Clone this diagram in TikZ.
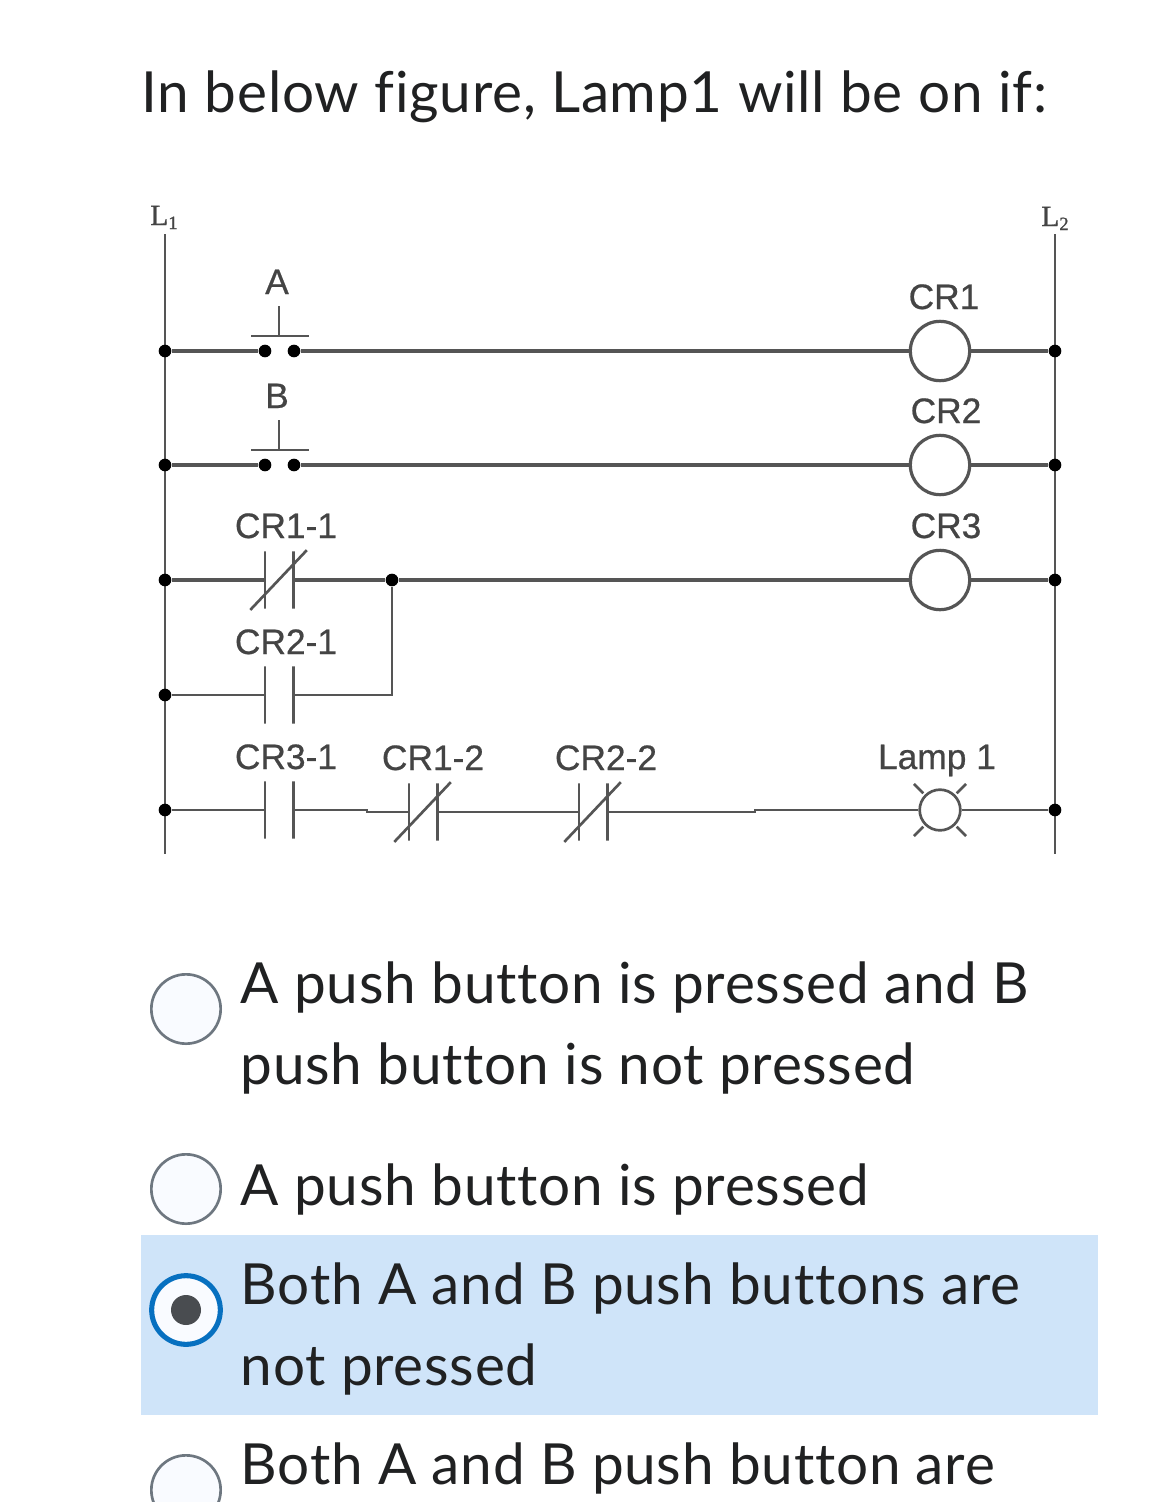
\documentclass[tikz,border=0pt]{standalone}
\usepackage{fontspec}
\setmainfont{Lato}[LetterSpace=1.35,RawFeature={-liga}]
\newfontfamily\labelfont{Liberation Sans}[RawFeature={embolden=0.6}]
\newfontfamily\railfont{Liberation Serif}[RawFeature={embolden=1.2}]
\usepackage{xcolor}
\usetikzlibrary{positioning}
\definecolor{wiregray}{HTML}{555555}
\definecolor{labelgray}{HTML}{444444}
\definecolor{textblack}{HTML}{202122}
\definecolor{radioline}{HTML}{6E7780}
\definecolor{radiofill}{HTML}{F9FBFF}
\definecolor{radioblue}{HTML}{0770C0}
\definecolor{radiodot}{HTML}{494C50}
\definecolor{rowblue}{HTML}{CFE4F9}
\tikzset{
	rail/.style={draw=wiregray, line width=2.2pt},
	wire/.style={draw=wiregray, line width=2.8pt},
	thinwire/.style={draw=wiregray, line width=2pt},
	joint/.style={circle, fill=black, inner sep=0, minimum size=9.5pt},
	plate/.style={draw=wiregray, line width=1.8pt, rectangle, inner sep=0, minimum width=0, minimum height=43pt},
	coil/.style={circle, draw=wiregray, line width=2.4pt, fill=white, inner sep=0, minimum size=44.5pt},
	lamp/.style={circle, draw=wiregray, line width=2pt, fill=white, inner sep=0, minimum size=30.5pt},
	partlabel/.style={font=\labelfont\fontsize{26.5}{26.5}\selectfont, text=labelgray, inner sep=0, anchor=base},
	raillabel/.style={font=\railfont\fontsize{22}{22}\selectfont, text=labelgray, inner sep=0, anchor=base},
	answer/.style={font=\fontsize{42.5}{42.5}\selectfont, text=textblack, inner sep=0, anchor=base west},
	radio/.style={circle, draw=radioline, line width=2pt, fill=radiofill, inner sep=0, minimum size=52pt}
}
\begin{document}
\begin{tikzpicture}[x=.75pt, y=-.75pt]
	\clip (0,0) rectangle (1170,1502);
	\fill[white] (0,0) rectangle (1170,1502);
	\node[answer] (Question) at (141.5,112.5){In below figure, Lamp1 will be on if:};

	% rails
	\node[raillabel] (Lone) at (164,225){L\raisebox{-3pt}{\fontsize{14}{14}\selectfont 1}};
	\node[raillabel] (Ltwo) at (1055,226){L\raisebox{-3pt}{\fontsize{14}{14}\selectfont 2}};
	\coordinate (LoneTop) at (165,234);
	\coordinate (LoneBot) at (165,854);
	\coordinate (LtwoTop) at (1055,234);
	\coordinate (LtwoBot) at (1055,854);
	\draw[rail] (LoneTop) -- (LoneBot);
	\draw[rail] (LtwoTop) -- (LtwoBot);

	% left and right joints
	\foreach \n/\y in {A/351, B/465, C/580, D/695, E/810}{
		\node[joint] (Left\n) at (165,\y){};
	}
	\foreach \n/\y in {A/351, B/465, C/580, E/810}{
		\node[joint] (Right\n) at (1055,\y){};
	}

	% push buttons
	\foreach \n/\y in {A/351, B/465}{
		\node[joint] (\n l) at (265,\y){};
		\node[joint] (\n r) at (294,\y){};
		\coordinate (\n barl) at (251,\y-15);
		\coordinate (\n barr) at (309,\y-15);
		\coordinate (\n mid) at (279,\y-15);
		\coordinate (\n top) at (279,\y-45);
		\draw[thinwire] (\n barl) -- (\n barr);
		\draw[thinwire] (\n mid) -- (\n top);
		\node[partlabel] (\n Label) at (277,\y-57){\n};
	}

	% coils
	\node[coil] (CRone) at (940,351){};
	\node[coil] (CRtwo) at (940,465){};
	\node[coil] (CRthree) at (940,580){};
	\node[lamp] (LampOne) at (940,810){};
	\node[partlabel] at (944,309){CR1};
	\node[partlabel] at (946,423){CR2};
	\node[partlabel] at (946,538){CR3};
	\node[partlabel] at (937,769){Lamp 1};

	% contacts
	\foreach \n/\x/\y in {CRoneOne/265/580, CRtwoOne/265/695, CRthreeOne/265/810, CRoneTwo/409/812, CRtwoTwo/579/812}{
		\node[plate] (\n l) at (\x,\y){};
		\node[plate] (\n r) at (\x+28.5,\y){};
	}
	\foreach \n in {CRoneOne, CRoneTwo, CRtwoTwo}{
		\draw[thinwire] ([xshift=-11pt]\n l.south) -- ([xshift=10pt]\n r.north);
	}
	\node[partlabel] at (286,538){CR1-1};
	\node[partlabel] at (286,654){CR2-1};
	\node[partlabel] at (286,769){CR3-1};
	\node[partlabel] at (433,770){CR1-2};
	\node[partlabel] at (606,770){CR2-2};

	% rungs
	\node[joint] (Branch) at (392,580){};
	\coordinate (BranchLow) at (392,695);
	\coordinate (StepOne) at (367,810);
	\coordinate (StepTwo) at (367,812);
	\coordinate (StepThree) at (755,812);
	\coordinate (StepFour) at (755,810);
	\draw[wire] (LeftA) -- (Al);
	\draw[wire] (Ar) -- (CRone);
	\draw[wire] (CRone) -- (RightA);
	\draw[wire] (LeftB) -- (Bl);
	\draw[wire] (Br) -- (CRtwo);
	\draw[wire] (CRtwo) -- (RightB);
	\draw[wire] (LeftC) -- (CRoneOnel);
	\draw[wire] (CRoneOner) -- (Branch);
	\draw[wire] (Branch) -- (CRthree);
	\draw[wire] (CRthree) -- (RightC);
	\draw[thinwire] (LeftD) -- (CRtwoOnel);
	\draw[thinwire] (CRtwoOner.center) -- (BranchLow) -- (Branch);
	\draw[thinwire] (LeftE) -- (CRthreeOnel);
	\draw[thinwire] (CRthreeOner) -- (StepOne) -- (StepTwo) -- (CRoneTwol);
	\draw[thinwire] (CRoneTwor) -- (CRtwoTwol);
	\draw[thinwire] (CRtwoTwor) -- (StepThree) -- (StepFour) -- (LampOne);
	\draw[thinwire] (LampOne) -- (RightE);
	\foreach \a/\dx/\dy in {45/7/7, 135/-7/7, 225/-7/-7, 315/7/-7}{
		\draw[thinwire] ([shift={(\dx*.15pt,\dy*.15pt)}]LampOne.\a) -- ++(\dx pt,\dy pt);
	}

	% answers
	\fill[rowblue] (141,1235) rectangle (1098,1415);
	\node[radio] (RadioA) at (186,1009){};
	\node[radio] (RadioB) at (186,1189){};
	\node[radio, draw=radioblue, line width=3.8pt, minimum size=51.5pt] (RadioC) at (186,1310){};
	\node[circle, fill=radiodot, inner sep=0, minimum size=22.5pt] (RadioCDot) at (RadioC){};
	\node[radio] (RadioD) at (186,1490){};
	\node[answer] at (240.5,1003.5){A push button is pressed and B};
	\node[answer] at (240.5,1084.5){push button is not pressed};
	\node[answer] at (240.5,1205.5){A push button is pressed};
	\node[answer] at (240.5,1304.5){Both A and B push buttons are};
	\node[answer] at (240.5,1385.5){not pressed};
	\node[answer] at (240.5,1484.5){Both A and B push button are};
\end{tikzpicture}
\end{document}
